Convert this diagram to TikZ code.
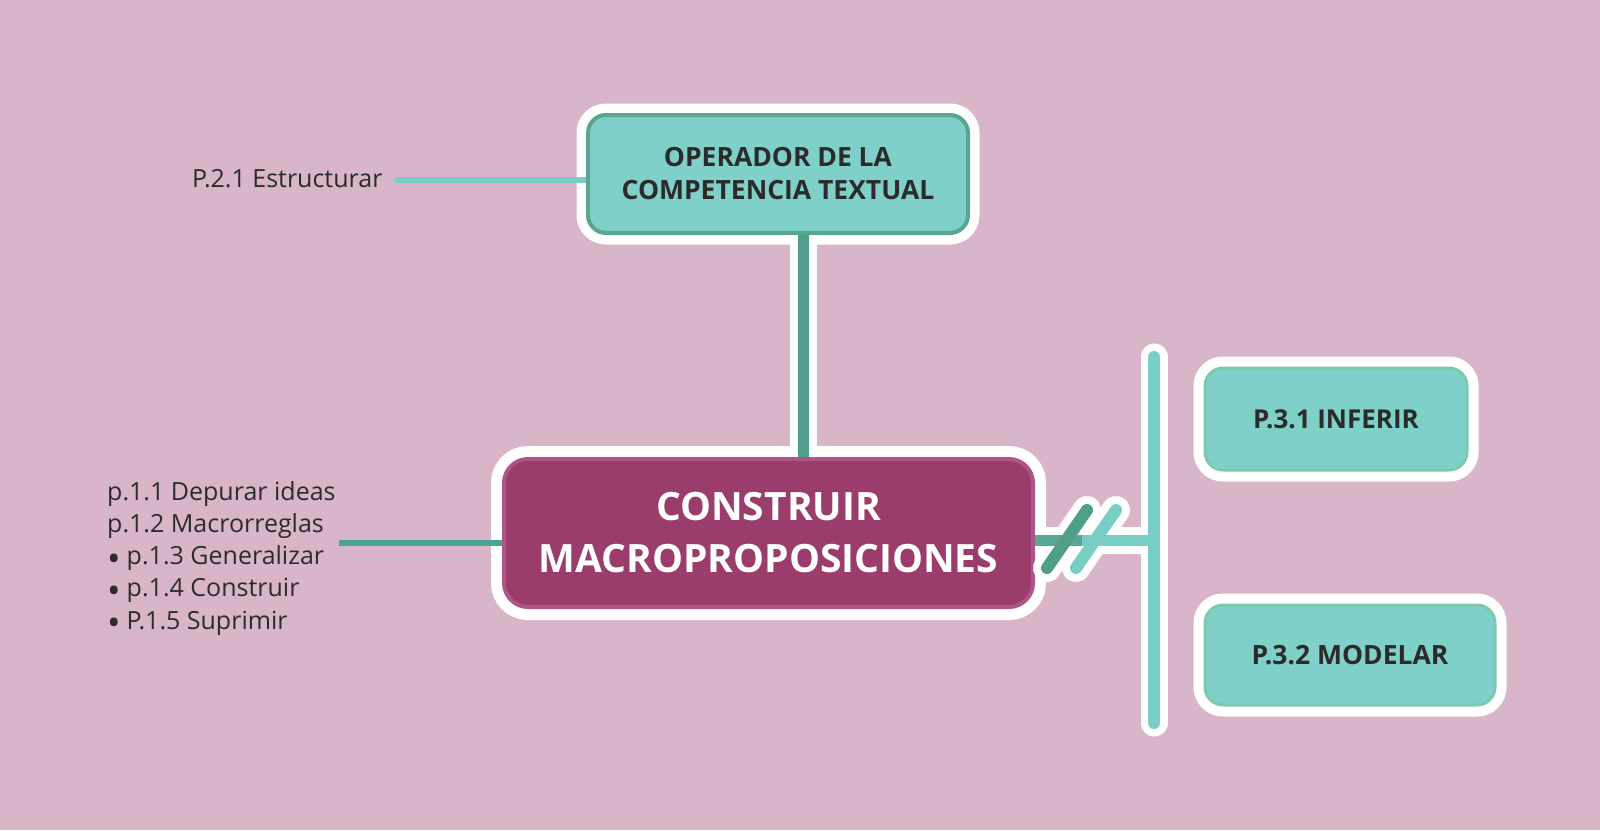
\documentclass[tikz,border=0pt]{standalone}
\usepackage{fontspec}
\setmainfont{Open Sans}
\definecolor{bg}{HTML}{D9B5C9}
\definecolor{tealfill}{HTML}{7ED0C8}
\definecolor{tealborder}{HTML}{58A68E}
\definecolor{tealborderlt}{HTML}{7CC9AE}
\definecolor{magfill}{HTML}{9A3D6C}
\definecolor{magborder}{HTML}{AE5487}
\definecolor{darkteal}{HTML}{4E9E89}
\definecolor{lightteal}{HTML}{78CEC4}
\definecolor{midteal}{HTML}{4AA595}
\definecolor{txt}{HTML}{2B2B2B}
\newcommand{\bigbul}{\smash{\raisebox{-6.5pt}{\fontsize{36}{32}\selectfont •}}\hspace{6pt}}
\tikzset{
  boxbase/.style={rounded corners=18pt, inner sep=0pt, align=center},
  tealbox/.style={boxbase, draw=tealborder, line width=4pt, fill=tealfill,
     preaction={draw=white, line width=23pt}, text=txt, font=\bfseries},
  tealboxlt/.style={tealbox, draw=tealborderlt, line width=3pt},
  magbox/.style={boxbase, rounded corners=24pt, draw=magborder, line width=4pt, fill=magfill,
     preaction={draw=white, line width=26pt}, text=white, font=\bfseries},
  whiteline/.style={draw=white, line width=27pt},
  thinline/.style={line width=6.5pt},
  plain/.style={text=txt, inner sep=0pt}
}
\begin{document}
\begin{tikzpicture}[x=1pt,y=-1pt]
\fill[bg] (0,0) rectangle (1600,830);
\useasboundingbox (0,0) rectangle (1600,830);

% boxes
\node[tealbox, minimum width=380pt, minimum height=118pt,
      font=\bfseries\fontsize{26.5}{33}\selectfont] (top) at (778,174)
      {OPERADOR DE LA\\COMPETENCIA TEXTUAL};
\node[magbox, minimum width=529pt, minimum height=148pt,
      font=\bfseries\fontsize{39}{52}\selectfont] (center) at (768.5,533)
      {CONSTRUIR\\MACROPROPOSICIONES};
\node[tealboxlt, minimum width=262pt, minimum height=102pt,
      font=\bfseries\fontsize{26}{30}\selectfont] (inferir) at (1336,419)
      {P.3.1 INFERIR};
\node[tealboxlt, minimum width=290pt, minimum height=100pt,
      font=\bfseries\fontsize{26.5}{30}\selectfont] (modelar) at (1350,655)
      {P.3.2 MODELAR};

% texts
\node[plain, anchor=base west, font=\fontsize{25}{30}\selectfont] (p21) at (192,187)
      {P.2.1 Estructurar};
\node[plain, anchor=north west, align=left, font=\fontsize{25}{32.2}\selectfont] (lista) at (107,481)
      {p.1.1 Depurar ideas\\p.1.2 Macrorreglas\\\bigbul p.1.3 Generalizar\\\bigbul p.1.4 Construir\\\bigbul P.1.5 Suprimir};

% coordinates
\coordinate (stemx) at (803,0);
\coordinate (lstend) at (339,543);
\coordinate (rline) at (0,540);
\coordinate (bartop) at (1154,357);
\coordinate (barbot) at (1154,723);
\coordinate (s1a) at (1047,568);
\coordinate (s1b) at (1087,510);
\coordinate (s2a) at (1076,568);
\coordinate (s2b) at (1116,510);
\coordinate (split) at (1082,540);

% thin connectors
\draw[thinline, lightteal] ([xshift=12pt]p21.east |- 0,180) -- (top.west |- 0,180);
\draw[thinline, midteal] (lstend) -- (lstend -| center.west);

% white outlines
\draw[whiteline] (stemx |- top.south) -- (stemx |- center.north);
\draw[whiteline] (center.east |- rline) -- (bartop |- rline);
\draw[whiteline, line cap=round] (bartop) -- (barbot);
\draw[whiteline, line width=28pt, line cap=round] (s1a) -- (s1b);
\draw[whiteline, line width=28pt, line cap=round] (s2a) -- (s2b);

% coloured lines
\draw[line width=11pt, darkteal] (stemx |- top.south) -- (stemx |- center.north);
\draw[line width=11pt, darkteal!80!lightteal] (center.east |- rline) -- (split |- rline);
\draw[line width=11pt, lightteal] (split |- rline) -- (bartop |- rline);
\draw[line width=12pt, lightteal, line cap=round] (bartop) -- (barbot);
\draw[line width=12pt, darkteal, line cap=round] (s1a) -- (s1b);
\draw[line width=12pt, lightteal, line cap=round] (s2a) -- (s2b);
\end{tikzpicture}
\end{document}
